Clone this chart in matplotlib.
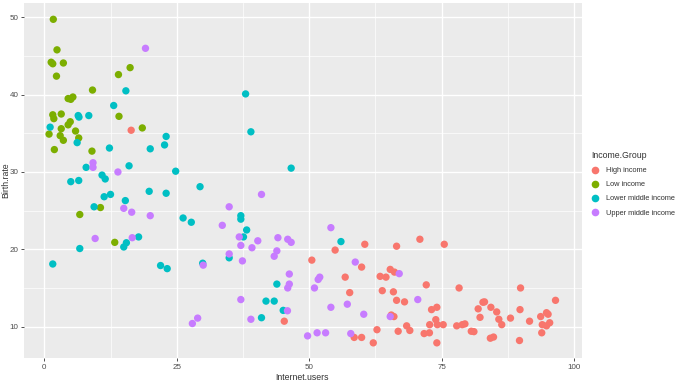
import matplotlib
matplotlib.use("Agg")
import matplotlib.pyplot as plt
from matplotlib.lines import Line2D

plt.rcParams["font.family"] = ["Liberation Sans", "DejaVu Sans"]

groups = ["High income", "Low income", "Lower middle income", "Upper middle income"]
colors = ["#F8766D", "#7CAE00", "#00BFC4", "#C77CFF"]

high_x = [16.4, 50.5, 54.9, 45.3, 60.5, 66.5, 70.9, 75.5, 59.9, 56.8, 63.4, 64.5, 65.3, 66.1,
          57.65, 63.8, 65.9, 72.1, 78.3, 89.9, 96.5, 66.5, 68.0, 73.1, 74.1, 65.5, 66.0, 73.9,
          72.75, 74.2, 75.3, 68.4, 69.0, 62.8, 66.8, 58.5, 59.9, 62.1, 71.7, 72.7, 74.1, 77.85,
          78.9, 79.4, 80.6, 81.1, 81.9, 82.8, 83.1, 82.25, 84.3, 85.4, 85.8, 86.35, 84.2, 84.8,
          88.0, 89.8, 89.7, 91.6, 93.7, 94.8, 95.1, 94.0, 94.8, 95.4, 93.9]
high_y = [35.4, 18.6, 19.9, 10.7, 20.65, 20.4, 21.3, 20.65, 17.7, 16.4, 16.5, 16.4, 17.4, 17.05,
          14.4, 14.65, 14.5, 15.4, 15.0, 15.0, 13.4, 13.4, 13.2, 12.2, 12.5, 11.5, 11.3, 10.9,
          10.25, 10.25, 10.25, 10.1, 9.5, 9.6, 9.4, 8.6, 8.6, 7.9, 9.1, 9.2, 7.9, 10.1,
          10.25, 10.35, 9.4, 9.35, 12.3, 13.15, 13.2, 11.2, 12.5, 11.9, 10.95, 10.25, 8.5, 8.65,
          11.1, 12.2, 8.2, 10.7, 11.3, 11.8, 11.6, 10.25, 10.1, 10.5, 9.2]

low_x = [1.7, 2.4, 1.3, 1.6, 3.6, 2.3, 9.1, 4.5, 5.0, 5.4, 1.6, 1.8, 3.2, 4.9, 4.5, 3.2, 5.9,
         0.9, 3.0, 3.6, 6.5, 1.9, 9.0, 14.0, 16.2, 14.1, 18.5, 6.7, 10.6, 13.3]
low_y = [49.75, 45.8, 44.2, 44.0, 44.1, 42.4, 40.6, 39.5, 39.4, 39.7, 37.4, 36.9, 37.5, 36.5,
         36.1, 35.6, 35.3, 34.9, 34.7, 34.1, 34.4, 32.9, 32.7, 42.6, 43.5, 37.2, 35.7, 24.5,
         25.4, 20.9]

lowmid_x = [38.0, 39.0, 46.6, 15.4, 13.1, 6.4, 6.55, 8.4, 1.1, 6.2, 12.3, 20.0, 22.7, 23.0,
            16.0, 7.9, 10.9, 11.5, 5.0, 6.5, 24.8, 29.4, 19.8, 23.0, 11.3, 12.5, 15.3, 9.4,
            26.2, 27.75, 37.1, 37.1, 38.2, 37.6, 17.8, 15.5, 15.0, 6.7, 1.6, 21.95, 23.2, 29.9,
            34.9, 43.9, 41.85, 43.4, 45.1, 41.0, 56.0]
lowmid_y = [40.1, 35.2, 30.5, 40.5, 38.6, 37.3, 37.1, 37.3, 35.8, 33.8, 33.1, 33.0, 33.5, 34.6,
            30.8, 30.6, 29.6, 29.1, 28.75, 28.9, 30.1, 28.1, 27.5, 27.25, 26.8, 27.1, 26.3, 25.5,
            24.05, 23.5, 24.35, 23.9, 22.5, 21.6, 21.6, 20.85, 20.3, 20.1, 18.1, 17.9, 17.5, 18.2,
            18.9, 15.5, 13.3, 13.3, 12.1, 11.15, 21.0]

upmid_x = [19.1, 9.2, 9.2, 13.9, 41.0, 15.0, 16.5, 20.0, 34.9, 33.6, 36.8, 37.1, 39.2, 40.3,
           37.4, 34.9, 30.0, 44.1, 45.95, 46.6, 43.9, 43.4, 46.25, 46.25, 45.95, 45.9, 16.6,
           9.6, 37.1, 39.0, 28.95, 27.95, 49.7, 51.5, 53.1, 51.0, 51.7, 52.0, 54.1, 54.1, 58.7,
           57.2, 57.85, 60.3, 67.0, 70.5, 65.3]
upmid_y = [46.0, 31.2, 30.6, 30.0, 27.1, 25.3, 24.8, 24.35, 25.5, 23.1, 21.6, 20.5, 20.2, 21.1,
           18.5, 19.4, 17.95, 21.5, 21.3, 20.9, 19.8, 19.1, 16.8, 15.5, 15.0, 12.05, 21.5,
           21.4, 13.5, 10.95, 11.1, 10.4, 8.8, 9.2, 9.2, 15.0, 16.1, 16.4, 22.8, 12.5, 18.35,
           12.9, 9.1, 11.6, 16.85, 13.5, 11.3]

xticks = [0, 25, 50, 75, 100]
yticks = [10, 20, 30, 40, 50]

fig = plt.figure(figsize=(6.8, 3.83), dpi=100)
ax = fig.add_axes([24/680, 1-358/383, (582-24)/680, (358-3)/383])
ax.set_facecolor("#EBEBEB")
for s in ax.spines.values():
    s.set_visible(False)

ax.set_xlim(-3.83, 101.5)
ax.set_ylim(5.94, 51.86)
ax.set_xticks(xticks)
ax.set_yticks(yticks)
ax.set_xticks([12.5, 37.5, 62.5, 87.5], minor=True)
ax.set_yticks([15, 25, 35, 45], minor=True)
ax.grid(which="major", color="white", linewidth=1.0)
ax.grid(which="minor", color="white", linewidth=0.5)
ax.set_axisbelow(True)
ax.tick_params(which="major", length=2, width=0.6, color="#333333", labelsize=5.8,
               labelcolor="#4D4D4D", pad=2)
ax.tick_params(which="minor", length=0)

series = [(high_x, high_y), (low_x, low_y), (lowmid_x, lowmid_y), (upmid_x, upmid_y)]
for (xs, ys), c in zip(series, colors):
    ax.scatter(xs, ys, s=28, color=c, edgecolors="none", zorder=3)

ax.set_xlabel("Internet.users", fontsize=6.3, color="#333333")
ax.set_ylabel("Birth.rate", fontsize=6.3, color="#333333")
ax.xaxis.set_label_coords((302-24)/558, -(373-358)/355)
ax.yaxis.set_label_coords(-(24-10)/558, 0.5)

handles = [Line2D([0], [0], marker="o", linestyle="none", markersize=5.5,
                  markerfacecolor=c, markeredgecolor="none") for c in colors]
leg = fig.legend(handles, groups, title="Income.Group", loc="upper left",
                 bbox_to_anchor=(588/680, 1-148/383), frameon=False, fontsize=5.3,
                 title_fontsize=6.3, handlelength=1.0, handletextpad=1.1,
                 labelspacing=0.95, borderaxespad=0)
leg._legend_box.align = "left"
leg.get_title().set_color("#333333")
for t in leg.get_texts():
    t.set_color("#333333")

fig.savefig("out.png", dpi=100)
